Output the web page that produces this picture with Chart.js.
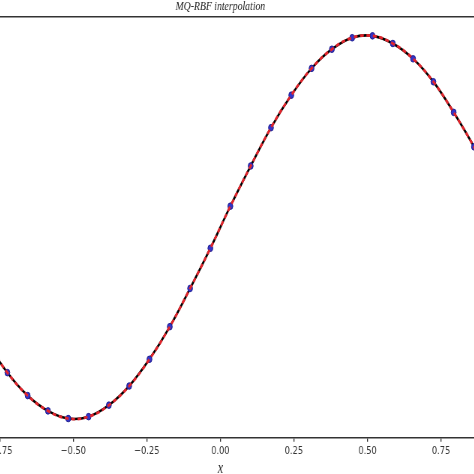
<!DOCTYPE html>
<html>
<head>
<meta charset="utf-8">
<script src="https://cdn.jsdelivr.net/npm/chart.js@4.4.1/dist/chart.umd.min.js"></script>
<style>
    html, body { margin: 0; padding: 0; background: #fff; overflow: hidden; }
    #wrap { position: relative; width: 474px; height: 474px; overflow: hidden; }
    /* the source figure is squeezed sideways and cropped to the middle of the axes */
    #chart { position: absolute; left: -107px; top: 0; transform-origin: 0 0; transform: scaleX(0.75); }
</style>
</head>
<body>
<div id="wrap">
    <canvas id="chart" width="873" height="474"></canvas>
</div>
<script>
// Interpolation nodes (30 points on [-1, 1]) and values
const xNodes = [
    -1.0, -0.931, -0.862, -0.793, -0.724, -0.655, -0.586, -0.517, -0.448, -0.379,
    -0.310, -0.241, -0.172, -0.103, -0.034, 0.034, 0.103, 0.172, 0.241, 0.310,
    0.379, 0.448, 0.517, 0.586, 0.655, 0.724, 0.793, 0.862, 0.931, 1.0
];
const yNodes = [
    0.0, -0.21, -0.42, -0.60, -0.76, -0.88, -0.96, -1.0, -0.99, -0.93,
    -0.83, -0.69, -0.52, -0.32, -0.11, 0.11, 0.32, 0.52, 0.69, 0.83,
    0.93, 0.99, 1.0, 0.96, 0.88, 0.76, 0.60, 0.42, 0.21, 0.0
];

// Bottom axis ticks
const tickValues = [-0.75, -0.5, -0.25, 0, 0.25, 0.5, 0.75];
const tickLabels = ['\u22120.75', '\u22120.50', '\u22120.25', '0.00', '0.25', '0.50', '0.75'];

const titleText = 'MQ-RBF interpolation';
const xTitle = 'x';

const points = xNodes.map((x, i) => ({ x: x, y: yNodes[i] }));

const ctx = document.getElementById('chart').getContext('2d');

new Chart(ctx, {
    type: 'line',
    data: {
        datasets: [
            {
                label: 'MQ-RBF',
                data: points,
                borderColor: '#e3242b',
                borderWidth: 2.8,
                borderDash: [5, 3.5],
                pointRadius: 0,
                tension: 0.4,
                fill: false,
                order: 1
            },
            {
                label: 'nodes',
                data: points,
                showLine: false,
                pointRadius: 3.3,
                pointBackgroundColor: '#3434c8',
                pointBorderColor: '#1e1e90',
                pointBorderWidth: 1,
                order: 2
            },
            {
                label: 'exact',
                data: points,
                borderColor: '#000000',
                borderWidth: 2.6,
                pointRadius: 0,
                tension: 0.4,
                fill: false,
                order: 3
            }
        ]
    },
    options: {
        responsive: false,
        animation: false,
        layout: {
            padding: 0
        },
        plugins: {
            legend: {
                display: false
            },
            tooltip: {
                enabled: false
            },
            title: {
                display: true,
                text: titleText,
                color: '#222222',
                font: {
                    family: "'Liberation Serif', serif",
                    style: 'italic',
                    weight: 'normal',
                    size: 13,
                    lineHeight: 1
                },
                padding: { top: 0, bottom: 3.7 }
            }
        },
        scales: {
            x: {
                type: 'linear',
                position: 'bottom',
                min: -1.1,
                max: 1.1,
                afterBuildTicks: axis => {
                    axis.ticks = tickValues.map(v => ({ value: v }));
                },
                ticks: {
                    autoSkip: false,
                    maxRotation: 0,
                    padding: 3.2,
                    color: '#333333',
                    font: {
                        family: "'DejaVu Sans', sans-serif",
                        size: 11
                    },
                    callback: function(value, index) {
                        return tickLabels[index];
                    }
                },
                grid: {
                    display: true,
                    drawOnChartArea: false,
                    drawTicks: true,
                    tickLength: 4,
                    tickColor: '#333333',
                    lineWidth: 1.3
                },
                border: {
                    display: true,
                    color: '#333333',
                    width: 1.5
                },
                title: {
                    display: true,
                    text: xTitle,
                    color: '#222222',
                    font: {
                        family: "'Liberation Serif', serif",
                        style: 'italic',
                        size: 16,
                        lineHeight: 1
                    },
                    // ticks.padding is counted twice in the axis height, so pull the title in
                    padding: { top: -0.3, bottom: -3 }
                }
            },
            x2: {
                type: 'linear',
                position: 'top',
                min: -1.1,
                max: 1.1,
                ticks: {
                    display: false
                },
                grid: {
                    display: false,
                    drawTicks: false
                },
                border: {
                    display: true,
                    color: '#333333',
                    width: 1.5
                }
            },
            y: {
                type: 'linear',
                display: false,
                min: -1.1,
                max: 1.1
            }
        }
    }
});
</script>
</body>
</html>
